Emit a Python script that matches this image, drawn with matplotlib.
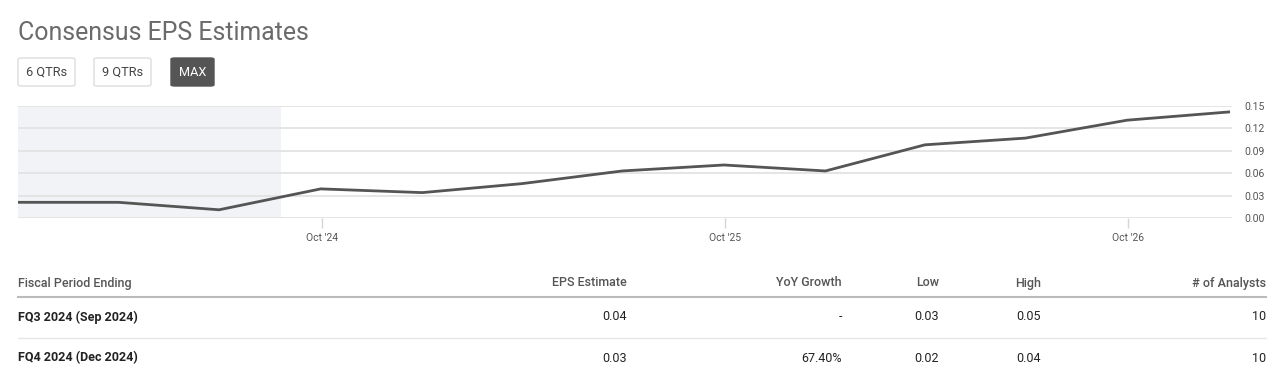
import pandas as pd
import matplotlib.pyplot as plt
import matplotlib.dates as mdates
from matplotlib.patches import FancyBboxPatch

plt.rcParams['font.family'] = ['Roboto', 'DejaVu Sans']

# chart data
quarters = ['2023-12-31', '2024-03-31', '2024-06-30', '2024-09-30', '2024-12-31',
            '2025-03-31', '2025-06-30', '2025-09-30', '2025-12-31', '2026-03-31',
            '2026-06-30', '2026-09-30', '2026-12-31']
eps = [0.021, 0.021, 0.011, 0.039, 0.034, 0.046, 0.063, 0.071, 0.063, 0.098,
       0.107, 0.131, 0.142]
history_end = '2024-08-25'
y_ticks = [0.00, 0.03, 0.06, 0.09, 0.12, 0.15]
buttons = ['6 QTRs', '9 QTRs', 'MAX']

# table data
headers = ['Fiscal Period Ending', 'EPS Estimate', 'YoY Growth', 'Low', 'High', '# of Analysts']
periods = ['FQ3 2024 (Sep 2024)', 'FQ4 2024 (Dec 2024)']
eps_est = ['0.04', '0.03']
yoy = ['-', '67.40%']
low = ['0.03', '0.02']
high = ['0.05', '0.04']
analysts = ['10', '10']

W, H = 1280, 375


def px(x, y):
    return x / W, 1 - y / H


fig = plt.figure(figsize=(12.8, 3.75), dpi=100)

# title + buttons
fig.text(*px(18, 33), 'Consensus EPS Estimates', fontsize=17.9, color='#6b6b6b',
         va='center', ha='left')
btn_x = [(18, 75), (94, 151), (171, 214)]
for (x0, x1), label in zip(btn_x, buttons):
    active = label == 'MAX'
    fx, fy = px(x0, 86)
    fw, fh = (x1 - x0) / W, 28 / H
    box = FancyBboxPatch((fx, fy), fw, fh, boxstyle='round,pad=0,rounding_size=0.003',
                         transform=fig.transFigure, facecolor='#555555' if active else 'white',
                         edgecolor='#555555' if active else '#dddddd', linewidth=1)
    fig.patches.append(box)
    fig.text(*px((x0 + x1) / 2, 72), label, fontsize=9.2, ha='center', va='center',
             color='white' if active else '#444444')

# chart
l, b = px(18, 218)
r, t = px(1232, 106)
ax = fig.add_axes([l, b, r - l, t - b])
dates = pd.to_datetime(quarters)
ax.axvspan(dates[0], pd.Timestamp(history_end), color='#f2f3f7', zorder=0, lw=0)
ax.plot(dates, eps, color='#555555', linewidth=2, zorder=3)
ax.set_xlim(dates[0], pd.Timestamp('2027-01-03'))
ax.set_ylim(0, 0.15)
ax.set_yticks(y_ticks)
ax.yaxis.set_major_formatter(plt.FuncFormatter(lambda v, p: '%.2f' % v))
ax.yaxis.tick_right()
ax.tick_params(axis='y', length=0, pad=9, labelsize=7.5, labelcolor='#555555')
ax.xaxis.set_major_locator(mdates.MonthLocator(bymonth=10))
ax.xaxis.set_major_formatter(mdates.DateFormatter("%b '%y"))
ax.tick_params(axis='x', length=7, width=1, color='#d5d5d5', pad=4, labelsize=7.5,
               labelcolor='#555555')
ax.grid(axis='y', color='#e3e3e3', linewidth=1.3, zorder=1)
for s in ax.spines.values():
    s.set_visible(False)
ax.set_facecolor('none')

# table
col_x = [18, 627, 842, 939, 1041, 1266]
col_ha = ['left', 'right', 'right', 'right', 'right', 'right']
for x, ha, h in zip(col_x, col_ha, headers):
    fig.text(*px(x, 283), h, fontsize=9, ha=ha, va='center', color='#555555',
             fontweight='medium')
fig.add_artist(plt.Line2D([18 / W, 1266 / W], [1 - 297 / H] * 2, color='#bbbbbb', lw=1.5))
row_y = [317, 358]
for i, y in enumerate(row_y):
    vals = [periods[i], eps_est[i], yoy[i], low[i], high[i], analysts[i]]
    for j, (x, ha, v) in enumerate(zip(col_x, col_ha, vals)):
        fig.text(*px(x, y), v, fontsize=9, ha=ha, va='center', color='#222222',
                 fontweight='bold' if j == 0 else 'normal')
fig.add_artist(plt.Line2D([18 / W, 1266 / W], [1 - 338 / H] * 2, color='#e6e6e6', lw=1))

fig.savefig('out.png', dpi=100)
